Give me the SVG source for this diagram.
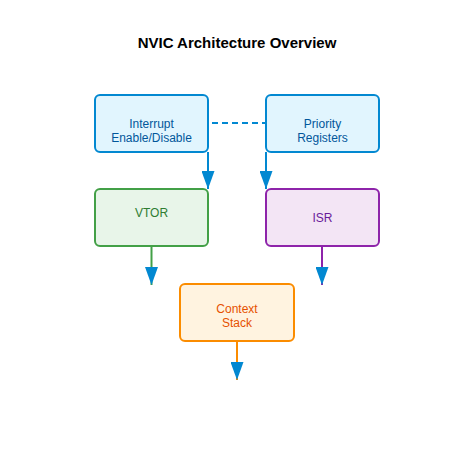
<svg xmlns="http://www.w3.org/2000/svg" width="474" height="474" viewBox="0 0 474 474">
<defs>
<style>
text{font-family:"Liberation Sans",Arial,sans-serif;font-size:12px;text-anchor:middle}
.title{font-size:15px;font-weight:bold;fill:#000}
.box{stroke-width:2}
.blue{fill:#e1f5fe;stroke:#0288d1}
.green{fill:#e8f5e9;stroke:#43a047}
.purple{fill:#f3e5f5;stroke:#8e24aa}
.orange{fill:#fff3e0;stroke:#fb8c00}
.tblue{fill:#01579b}
.tgreen{fill:#2e7d32}
.tpurple{fill:#6a1b9a}
.torange{fill:#e65100}
.edge{fill:none;stroke-width:2}
</style>
<marker id="arr" viewBox="0 0 18 13" refX="18" refY="6.5" markerWidth="9" markerHeight="6.5" orient="auto" markerUnits="strokeWidth">
<path d="M0,0 L18,6.5 L0,13 Z" fill="#0288d1"/>
</marker>
</defs>
<rect width="474" height="474" fill="#fff"/>
<text class="title" x="237" y="48">NVIC Architecture Overview</text>
<g id="connectors">
<path class="edge" d="M212,123 H265" stroke="#0288d1" stroke-dasharray="6,4"/>
<path class="edge" d="M208,152 V189" stroke="#0288d1" marker-end="url(#arr)"/>
<path class="edge" d="M266,152 V189" stroke="#0288d1" marker-end="url(#arr)"/>
<path class="edge" d="M151.5,246 V285" stroke="#43a047" marker-end="url(#arr)"/>
<path class="edge" d="M322,246 V285" stroke="#8e24aa" marker-end="url(#arr)"/>
<path class="edge" d="M237,341 V380" stroke="#fb8c00" marker-end="url(#arr)"/>
</g>
<g id="interrupt">
<rect class="box blue" x="95" y="95" width="113" height="57" rx="5"/>
<text class="tblue" x="151.5" y="128">Interrupt</text>
<text class="tblue" x="151.5" y="142">Enable/Disable</text>
</g>
<g id="priority">
<rect class="box blue" x="266" y="95" width="113" height="57" rx="5"/>
<text class="tblue" x="322.5" y="128">Priority</text>
<text class="tblue" x="322.5" y="142">Registers</text>
</g>
<g id="vtor">
<rect class="box green" x="95" y="189" width="113" height="57" rx="5"/>
<text class="tgreen" x="151.5" y="217">VTOR</text>
</g>
<g id="isr">
<rect class="box purple" x="266" y="189" width="113" height="57" rx="5"/>
<text class="tpurple" x="322.5" y="222">ISR</text>
</g>
<g id="context">
<rect class="box orange" x="180" y="284" width="114" height="57" rx="5"/>
<text class="torange" x="237" y="313">Context</text>
<text class="torange" x="237" y="327">Stack</text>
</g>
</svg>
